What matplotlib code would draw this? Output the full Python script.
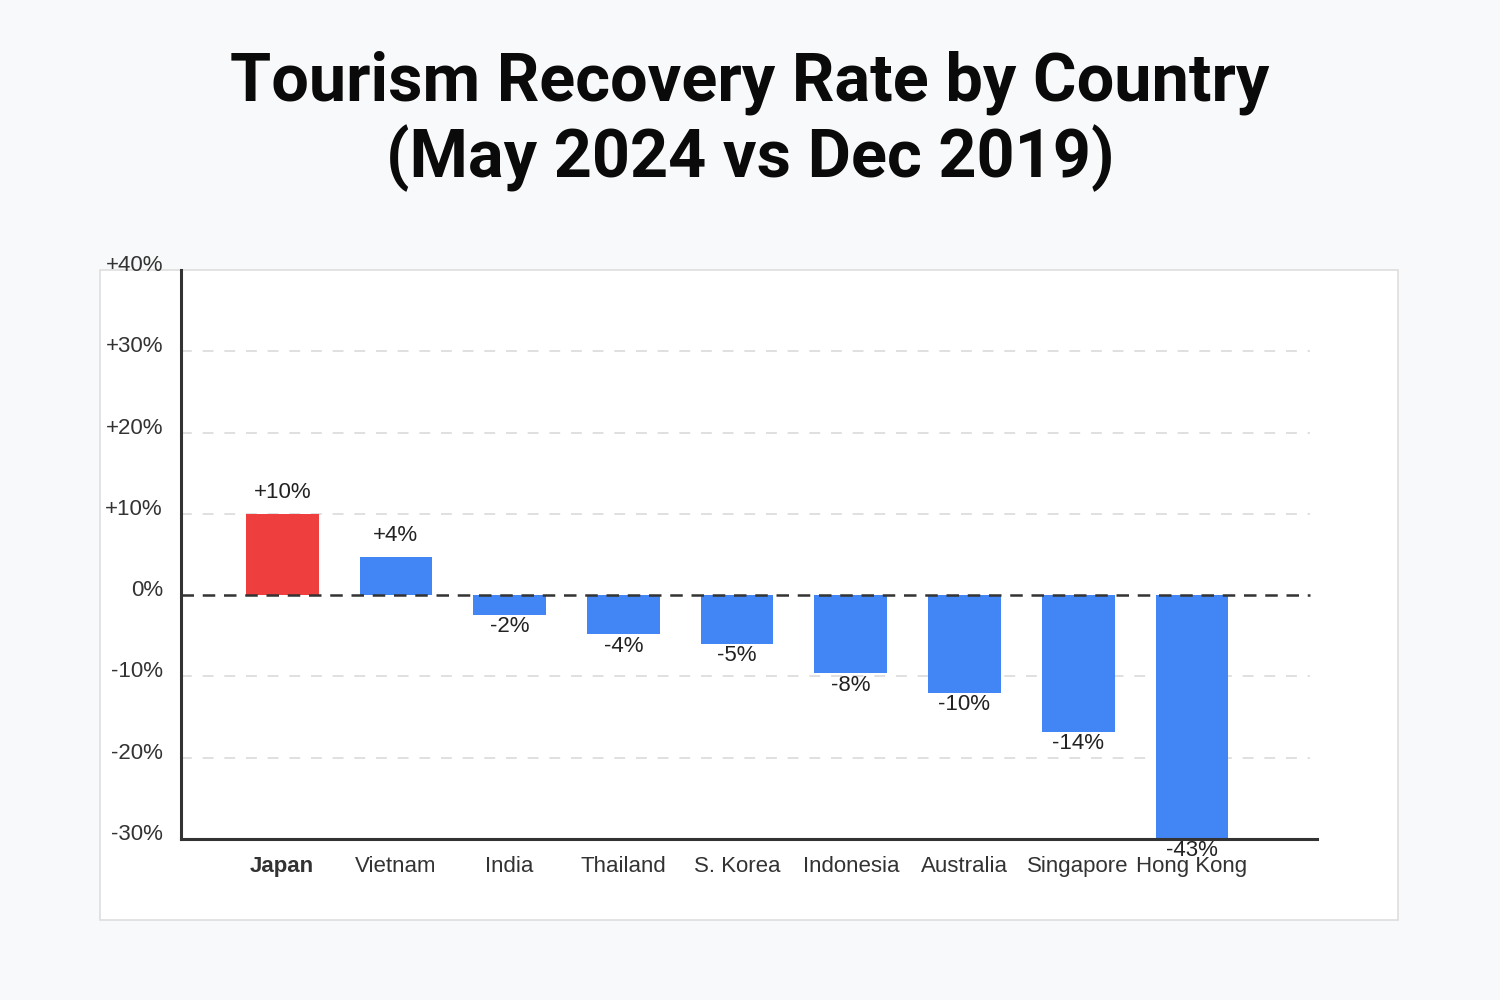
import matplotlib
matplotlib.use('Agg')
import matplotlib.pyplot as plt
import matplotlib.transforms as mtransforms
from matplotlib.patches import Rectangle

countries = ['Japan', 'Vietnam', 'India', 'Thailand', 'S. Korea',
             'Indonesia', 'Australia', 'Singapore', 'Hong Kong']
# bar heights as drawn in the chart (percent)
recovery = [10, 4.7, -2.4, -4.8, -6.0, -9.6, -12.0, -16.8, -43]
# value labels printed on the chart
value_labels = ['+10%', '+4%', '-2%', '-4%', '-5%', '-8%', '-10%', '-14%', '-43%']
highlight = 'Japan'
yticks = [-30, -20, -10, 0, 10, 20, 30, 40]
ytick_labels = ['-30%', '-20%', '-10%', '0%', '+10%', '+20%', '+30%', '+40%']

plt.rcParams['font.family'] = ['Liberation Sans', 'DejaVu Sans']

fig = plt.figure(figsize=(15, 10), dpi=100, facecolor='#f8f9fa')

# white chart panel
fig.add_artist(Rectangle((100 / 1500, 80 / 1000), 1298 / 1500, 650 / 1000,
                         transform=fig.transFigure, facecolor='white',
                         edgecolor='#dedede', lw=1.2, zorder=0))

ax = fig.add_axes([181 / 1500, 161 / 1000, 1136 / 1500, 569 / 1000])
ax.set_facecolor('none')

x = list(range(len(countries)))
colors = ['#ef3e3e' if c == highlight else '#4285f4' for c in countries]
ax.bar(x, recovery, width=0.64, color=colors, zorder=2)

ax.set_xlim(-0.89, 9.1)
ax.set_ylim(-30, 40)

# grid lines
for y in [30, 20, 10, -10, -20]:
    ax.axhline(y, xmax=0.994, color='#dddddd', lw=1.3, ls=(0, (6, 6)), zorder=1)
ax.axhline(0, xmax=0.994, color='#333333', lw=1.8, ls=(0, (5, 3.5)), zorder=3)

# value labels
ymin = ax.get_ylim()[0]
for xi, v, lab in zip(x, recovery, value_labels):
    if v >= 0:
        ax.annotate(lab, (xi, v), xytext=(0, 8), textcoords='offset points',
                    ha='center', va='bottom', fontsize=16, color='#222222')
    else:
        ax.annotate(lab, (xi, max(v, ymin)), xytext=(0, -1), textcoords='offset points',
                    ha='center', va='top', fontsize=16, color='#222222',
                    annotation_clip=False, zorder=4)

ax.set_yticks(yticks)
ax.set_yticklabels(ytick_labels)
ax.set_xticks(x)
ax.set_xticklabels(countries)
ax.tick_params(axis='y', length=0, pad=13, labelsize=16, labelcolor='#333333')
ax.tick_params(axis='x', length=0, pad=12.5, labelsize=16, labelcolor='#333333')
for lbl in ax.get_xticklabels():
    if lbl.get_text() == highlight:
        lbl.set_fontweight('bold')
shift = mtransforms.ScaledTranslation(0, 7 / 100, fig.dpi_scale_trans)
for lbl in ax.get_yticklabels():
    lbl.set_transform(lbl.get_transform() + shift)

for side in ['top', 'right']:
    ax.spines[side].set_visible(False)
for side in ['left', 'bottom']:
    ax.spines[side].set_color('#333333')
    ax.spines[side].set_linewidth(2.2)

fig.text(0.5, 0.879, 'Tourism Recovery Rate by Country\n(May 2024 vs Dec 2019)',
         ha='center', va='center', fontsize=48, fontweight='bold',
         family=['Roboto', 'DejaVu Sans'], color='#0a0a0a', linespacing=1.17)

fig.savefig('out.png', dpi=100, facecolor=fig.get_facecolor())
